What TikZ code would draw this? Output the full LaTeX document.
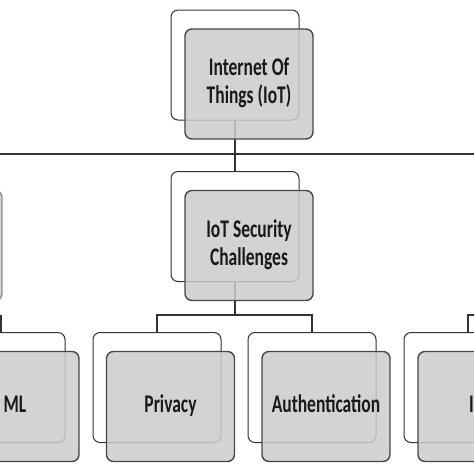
\documentclass[tikz,border=0pt]{standalone}
\usepackage{fontspec}
\usepackage{graphicx}
\setmainfont{Carlito}
\newcommand{\talltext}[1]{\scalebox{1}[1.45]{\bfseries\fontsize{17.5}{19.3}\selectfont\begin{tabular}{@{}c@{}}#1\end{tabular}}}
\begin{document}
\begin{tikzpicture}[x=1pt,y=-1pt,
  box/.style={rounded corners=7pt, minimum width=128pt, minimum height=110pt, inner sep=0pt},
  backbox/.style={box, draw=black!80, line width=1pt, fill=white},
  frontbox/.style={box, draw=black!72, line width=1.4pt, fill=black!20, fill opacity=0.85, text opacity=1, align=center, text=black!90},
  conn/.style={draw=black!80, line width=1.2pt},
  lbl/.style={text=black!90, inner sep=0pt}]
\useasboundingbox (0,0) rectangle (474,474);
\clip (0,0) rectangle (474,474);
% back boxes
\node[backbox] (topback) at (235,65) {};
\node[backbox] (midback) at (235,226.5) {};
\node[backbox] (leftback) at (-76,226.5) {};
\node[backbox] (mlback) at (1,387.5) {};
\node[backbox] (privback) at (157,387.5) {};
\node[backbox] (authback) at (312,387.5) {};
\node[backbox] (rback) at (468,387.5) {};
% connectors
\coordinate (busL) at (-10,154);
\coordinate (busR) at (484,154);
\coordinate (j2) at (235,315);
\coordinate (rj) at (490,315);
\draw[conn] (busL) -- (busR);
\draw[conn] (topback.south) -- (topback.south |- busL);
\draw[conn] (midback.north) -- (midback.north |- busL);
\draw[conn] (midback.south) -- (j2);
\draw[conn] (privback.north) |- (j2) -| (authback.north);
\draw[conn] (mlback.north) -- (mlback.north |- j2);
\draw[conn] (rback.north) |- (rj);
% front boxes
\node[frontbox] (topfront) at (249,84) {\talltext{Internet Of\\Things (IoT)}};
\node[frontbox] (midfront) at (249,245.5) {\talltext{IoT Security\\Challenges}};
\node[frontbox, draw=black!45] (leftfront) at (-62,245.5) {};
\node[frontbox] (mlfront) at (15,406.5) {\talltext{ML}};
\node[frontbox] (privfront) at (170.5,406.5) {\talltext{Privacy}};
\node[frontbox] (authfront) at (326,406.5) {\talltext{Authentication}};
\node[frontbox] (rfront) at (482,406.5) {};
\node[lbl, anchor=west] (rtext) at (469,406.5) {\talltext{I}};
\end{tikzpicture}
\end{document}
